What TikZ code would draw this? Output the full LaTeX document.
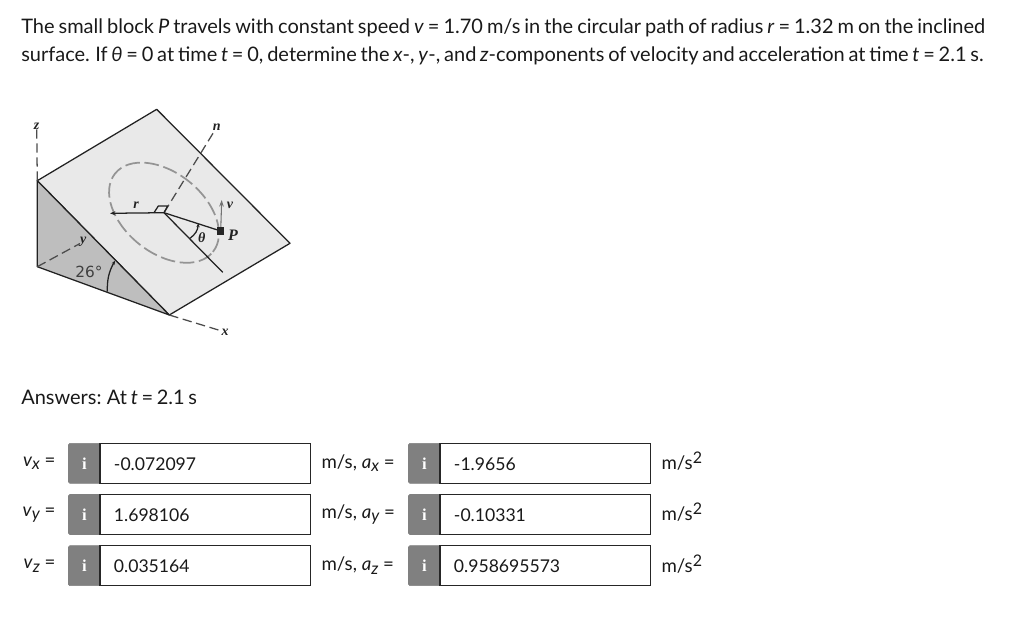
\documentclass[tikz,border=0pt]{standalone}
\usepackage{fontspec}
\setmainfont{Lato}
\newfontfamily\tightfont[WordSpace=0.72]{Lato}
\newfontfamily\figfont{Liberation Serif}
\newfontfamily\anglefont{DejaVu Sans}
\usetikzlibrary{positioning, arrows.meta}
\definecolor{slopegray}{HTML}{E9E9E9}
\definecolor{sidegray}{HTML}{BEBEBE}
\definecolor{infogray}{HTML}{808080}
\definecolor{pathgray}{HTML}{949494}
\definecolor{inkgray}{HTML}{222222}
\newcommand{\lowidx}[1]{\raisebox{-0.36ex}{\fontsize{12.5}{13}\selectfont\itshape #1}}
\newcommand{\highidx}[1]{\raisebox{0.62ex}{\fontsize{12}{13}\selectfont #1}}

\begin{document}
\begin{tikzpicture}[
        x=0.75pt, y=-0.75pt,
        every node/.style={text=black!90},
        prose/.style={anchor=base west, inner sep=0pt, font=\tightfont\fontsize{15}{18}\selectfont},
        figlabel/.style={inner sep=0pt, font=\figfont\itshape\bfseries\fontsize{10.5}{11}\selectfont, text=inkgray},
        edge/.style={draw=inkgray, line width=0.95pt, line join=round},
        axis/.style={draw=black!70, line width=0.95pt, dash pattern=on 7pt off 3.5pt},
        infobox/.style={fill=infogray, draw=infogray, rounded corners=1pt, minimum width=24pt, minimum height=30pt, inner sep=0pt, text=white, font=\figfont\bfseries\fontsize{12.5}{12}\selectfont, outer sep=0pt},
        valuebox/.style={draw=black!85, line width=0.8pt, minimum width=158pt, text width=137pt, text height=10.4pt, text depth=0pt, minimum height=30pt, inner sep=0pt, inner xsep=10.5pt, align=left, outer sep=0pt, font=\fontsize{13.2}{15}\selectfont, xshift=-0.4pt},
        rowlabel/.style={inner sep=0pt, font=\fontsize{14}{16}\selectfont}
    ]
    \useasboundingbox (0,0) rectangle (1024,643);

    % Problem statement
    \node[prose] (line1) at (21,33) {\spaceskip=2.99pt The small block \textit{P} travels with constant speed \textit{v} = 1.70 m/s in the circular path of radius \textit{r} = 1.32 m on the inclined};
    \node[prose] (line2) at (21,61) {\spaceskip=2.84pt surface. If \textit{θ} = 0 at time \textit{t} = 0, determine the \textit{x}-, \textit{y}-, and \textit{z}-components of velocity and acceleration at time \textit{t} = 2.1 s.};

    % Wedge corners
    \coordinate (backleft) at (37.3,180.7);
    \coordinate (backtop) at (156.7,109.3);
    \coordinate (right) at (290,243.3);
    \coordinate (front) at (169.3,315);
    \coordinate (base) at (37.3,266.7);
    \coordinate (center) at (164,212.7);

    % Wedge faces
    \draw[edge, fill=slopegray] (backleft) -- (backtop) -- (right) -- (front) -- cycle;
    \draw[edge, fill=sidegray] (backleft) -- (base) -- (front) -- cycle;

    % Axes
    \node[figlabel] (zlabel) at (36.7,126) {z};
    \node[figlabel] (nlabel) at (216.7,127.3) {n};
    \node[figlabel] (xlabel) at (225,332) {x};
    \node[figlabel] (ylabel) at (83.3,241.7) {y};
    \draw[axis] (backleft) -- (zlabel);
    \draw[axis] (center) -- (nlabel);
    \draw[axis] (front) -- (xlabel);
    \draw[axis] (base) -- (ylabel);

    % Circular path
    \draw[draw=pathgray, line width=1.3pt, dash pattern=on 11pt off 3.5pt] (center) ellipse[x radius=47pt, y radius=30pt, rotate=-38.7];

    % Radius, block and angle
    \coordinate (rtip) at (110,213.3);
    \coordinate (block) at (220.7,231);
    \coordinate (vtip) at (221.7,200);
    \coordinate (lineend) at (222.7,272.3);
    \coordinate (sqa) at (154,212.7);
    \coordinate (sqb) at (158.3,206);
    \coordinate (sqc) at (167.7,206);
    \coordinate (thetastart) at (190,238.3);
    \coordinate (thetaend) at (198.3,223.3);
    \coordinate (wedgestart) at (107.3,291.7);
    \coordinate (wedgeend) at (115,260.7);
    \draw[edge] (sqa) -- (sqb) -- (sqc) -- (center);
    \draw[edge, -{Stealth[length=4pt, width=3pt]}] (center) -- (rtip);
    \draw[edge] (center) -- (block);
    \draw[edge] (center) -- (lineend);
    \draw[draw=black!55, line width=0.8pt, -{Stealth[length=5pt, width=3.5pt]}] (block) -- (vtip);
    \node[draw=none, fill=black!85, minimum size=5.5pt, inner sep=0pt] (blockmark) at (block) {};
    \draw[edge, -{Stealth[length=3pt, width=2.5pt]}] (thetastart) to[bend right=25] (thetaend);
    \draw[edge, -{Stealth[length=3pt, width=2.5pt]}] (wedgestart) to[bend left=15] (wedgeend);

    % Figure labels
    \node[figlabel] (rlabel) at (136,205) {r};
    \node[figlabel] (vlabel) at (230,205) {v};
    \node[figlabel, font=\figfont\itshape\bfseries\fontsize{12}{12}\selectfont] (plabel) at (233,235) {P};
    \node[figlabel] (thetalabel) at (201.7,237.3) {θ};
    \node[inner sep=0pt, font=\anglefont\fontsize{11.5}{12}\selectfont, text=black!75] (anglelabel) at (89,271.7) {26°};

    % Answers
    \node[prose] (answers) at (21,404) {Answers: At \textit{t} = 2.1 s};

    % Left column
    \node[infobox] (infovx) at (84.5,463.3) {i};
    \node[valuebox, right=0pt of infovx] (valvx) {-0.072097};
    \node[infobox, below=8.4pt of infovx] (infovy) {i};
    \node[valuebox, right=0pt of infovy] (valvy) {1.698106};
    \node[infobox, below=8.4pt of infovy] (infovz) {i};
    \node[valuebox, right=0pt of infovz] (valvz) {0.035164};

    % Right column
    \node[infobox] (infoax) at (424.5,463.3) {i};
    \node[valuebox, right=0pt of infoax] (valax) {-1.9656};
    \node[infobox, below=8.4pt of infoax] (infoay) {i};
    \node[valuebox, right=0pt of infoay] (valay) {-0.10331};
    \node[infobox, below=8.4pt of infoay] (infoaz) {i};
    \node[valuebox, right=0pt of infoaz] (valaz) {0.958695573};

    % Row labels
    \node[rowlabel, left=9.5pt of infovx] {\textit{v}\lowidx{x} =};
    \node[rowlabel, left=9.5pt of infovy] {\textit{v}\lowidx{y} =};
    \node[rowlabel, left=9.5pt of infovz] {\textit{v}\lowidx{z} =};
    \node[rowlabel, right=8pt of valvx] {m/s, \textit{a}\lowidx{x} =};
    \node[rowlabel, right=8pt of valvy] {m/s, \textit{a}\lowidx{y} =};
    \node[rowlabel, right=8pt of valvz] {m/s, \textit{a}\lowidx{z} =};
    \node[rowlabel, right=8pt of valax, yshift=1.5pt] {m/s\highidx{2}};
    \node[rowlabel, right=8pt of valay, yshift=1.5pt] {m/s\highidx{2}};
    \node[rowlabel, right=8pt of valaz, yshift=1.5pt] {m/s\highidx{2}};

\end{tikzpicture}
\end{document}
